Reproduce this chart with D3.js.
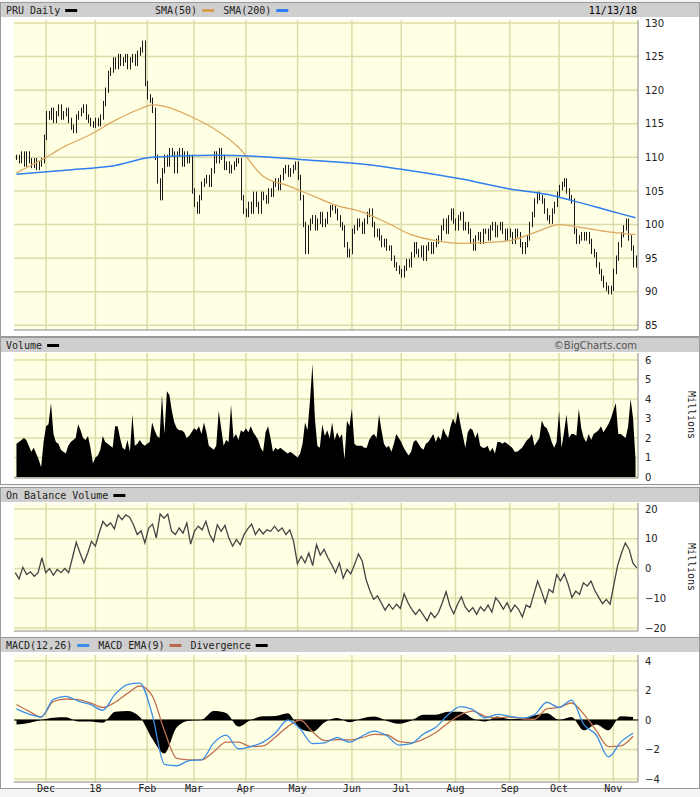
<!DOCTYPE html>
<html>
<head>
<meta charset="utf-8">
<script src="https://cdn.jsdelivr.net/npm/d3@7"></script>
<style>
body { margin: 0; background: #fff; }
text { font-family: "DejaVu Sans Mono", monospace; }
</style>
</head>
<body>
<div class="chart"></div>
<script>
var WIDTH = 700, HEIGHT = 797;

// month gridlines (trading day index) and their labels
var monthIdx = [12, 32, 53, 72, 93, 114, 136, 156, 178, 200, 220, 242];
var monthLbl = ["Dec", "18", "Feb", "Mar", "Apr", "May", "Jun", "Jul", "Aug", "Sep", "Oct", "Nov"];

// daily closes
var closes = [
  110,109.5,110.5,109,110.5,109.5,108.8,109.5,108.5,109,
  109.5,113,116.5,116,117,115.5,116.5,117.5,116,116.5,
  117,115.5,114.5,114,116,116.5,117,117.5,116,115.5,
  115,114.8,115.5,115,116,118,120,122.5,123,124.5,
  123.5,125,124,124.5,125,123.5,124.5,125,124,125.5,
  126,127,121,119,118.5,117,110,106.5,104,108,
  110,109,111,110.5,108,110.5,111,109,110.5,109.5,
  110,105,103,102,104,106,106.5,107,106,108,
  110.5,109.5,111,110,108.5,109,108,108.5,109,109.5,
  109.5,104,102,101.5,103,102,104.5,103,102,104.5,
  104,103.5,105,104.5,106,106.5,105.5,107,108,108.5,
  107.5,108,108.5,109,107,104,100,96,99.5,100.5,
  101,99.5,100.5,101.5,100,100.5,101.5,102.5,102.5,102,
  101,100,99.5,97,95.5,96,99,99.5,100.5,100,
  99,100.5,101.5,102,100,98.5,99,98,97,97.5,
  96.5,96.5,95,94,93.5,93,92.5,93.5,94.5,94,
  95.5,97,96,95.5,96.5,95,96.5,97,96,97,
  97.5,98,99.5,100.5,99,101,102,100.5,99.5,101,
  101.5,99.5,100,99,97.5,96.5,98,98.5,97.5,99,
  99,98,99.5,100,98.5,99.5,100,99,98,99,
  98.5,97.5,99,98.5,97,96,97,98,100,101.5,
  103.5,104.5,104,103.5,102,101,100.5,102,103,104.5,
  105.5,106,106.5,105,104,103.5,99,97.5,98,98.5,
  98,98.5,97.5,96,95.5,94,93,92,91,90.5,
  90,90.5,93,95,97,98.5,99.5,100.5,98,96.5,94,95
];

// moving averages
var smaDays = [0,10,20,30,40,50,55,60,70,80,90,100,110,120,130,140,150,160,170,180,190,200,210,220,230,240,251];
var sma50 = [107.7,109.6,111.7,113.4,115.5,117.2,117.8,117.6,116.2,114.3,111.5,107.2,105.8,104.3,102.8,101.9,100.3,98.5,97.6,97.2,97.3,97.6,98.8,100,99.5,98.9,98.5];
var sma200Days = [0,20,40,55,80,100,115,140,160,180,200,215,225,240,251];
var sma200 = [107.5,108.1,108.8,110,110.3,110.1,109.7,109,108,106.8,105.3,104.5,103.6,102.1,101];

// daily volume, millions
var volume = [
  1.7,1.8,1.9,2.0,1.9,1.6,1.3,1.5,1.2,0.9,0.5,1.8,2.6,2.7,3.8,2.2,1.8,1.7,1.4,1.3,1.2,
  1.6,1.8,1.9,2.0,2.7,2.4,2.0,1.9,2.1,1.5,0.7,1.0,1.1,1.4,2.1,1.8,1.7,1.6,1.5,
  2.6,2.6,2.0,1.5,1.4,1.9,1.3,3.2,1.6,1.7,1.9,1.7,1.6,1.7,1.8,2.8,2.4,2.1,
  2.0,4.2,2.2,4.4,4.2,3.4,2.8,2.5,2.4,2.4,2.3,2.0,2.1,2.3,2.5,2.4,
  2.6,2.2,2.8,2.3,1.6,1.5,1.4,1.6,3.4,2.5,1.6,1.9,1.8,3.7,
  2.0,2.2,1.9,2.4,2.3,2.5,2.3,2.6,2.3,2.1,1.9,1.5,1.3,2.3,2.6,2.0,
  1.3,1.5,1.4,1.5,1.4,1.3,1.2,1.3,1.2,1.1,1.0,1.2,1.7,2.8,2.4,3.9,5.8,3.0,1.6,1.5,
  2.7,2.1,2.4,2.0,2.8,1.9,2.3,
  2.0,2.2,0.9,2.9,2.6,3.5,1.7,1.6,1.6,1.6,1.5,1.5,1.9,2.1,2.2,2.0,3.2,2.4,
  1.7,1.5,1.6,1.3,1.7,2.2,2.0,1.8,1.5,1.3,1.1,1.3,1.8,1.9,1.7,1.5,1.4,
  1.7,1.8,2.0,2.2,1.8,2.1,1.9,2.5,2.2,2.0,2.6,3.0,2.7,3.4,2.7,2.1,
  1.5,2.3,2.5,2.4,2.0,2.3,1.6,1.5,1.5,1.6,1.3,1.5,1.2,
  1.8,1.8,1.7,1.8,1.7,1.6,1.5,1.3,1.3,1.4,1.5,1.7,1.9,2.0,2.2,
  1.6,1.8,2.0,2.9,2.6,2.5,2.2,1.8,1.5,1.8,3.4,1.5,2.3,3.2,2.0,2.2,2.2,2.1,
  3.5,2.5,2.0,1.8,2.2,1.9,2.2,2.3,2.4,2.6,2.3,2.5,2.7,3.0,3.4,3.8,
  2.2,2.2,2.1,2.0,2.6,4.0,3.0,0.9
];

// on balance volume, millions (turning points, spread evenly)
var obv = [
  -1.4,-3.5,0.4,-2,-1.1,-2.6,-1.4,3.6,-1.4,0,-2.3,-0.3,-1.4,0,-1.4,3.6,8.8,5.2,1.9,5.2,
  9.1,7.5,11.9,15.8,14.2,15.3,13.3,18,16.4,18,17.2,14.7,11.4,12.7,8.6,13.6,14.9,10.3,18.3,16.9,
  18.3,12.5,11.4,13.6,11.9,15.3,8.2,12.5,14.2,13,15.8,11.4,9.1,14.7,12.5,14.5,10.3,7.5,9.7,8,
  11.4,13.4,14.9,11.4,13.3,11.6,13,12.5,14.2,12.5,13.6,11.4,13,9.1,1.6,4.1,1.9,5.2,1,8,
  4.5,6.4,3.6,1.3,-1.4,1.9,-3.3,-0.3,-1.8,1.3,4.9,2.5,-3.7,-7.4,-10.4,-9.2,-11.6,-14,-12,-13.7,
  -12,-13.4,-8.5,-11.5,-13.7,-15.4,-13.7,-15.6,-17.6,-14.8,-16.5,-14.8,-11.5,-7.8,-12.6,-15.2,-12,-9.5,-12.9,-14.5,
  -13.1,-15.4,-12.9,-14.3,-12.3,-14.6,-9.8,-11.5,-13.7,-11.5,-14.5,-12.3,-13.7,-16.3,-12.3,-13.1,-8.7,-4.2,-7.6,-11.5,
  -7,-8.1,-2,-4.2,-1.8,-5.3,-9.8,-7.6,-8.7,-4.8,-5.9,-4.2,-7.4,-9.6,-11.8,-10.4,-12,-5.3,1.1,5.2,
  8.6,6.4,1.8,0.2
];

// MACD(12,26) and its EMA(9), every 5 trading days
var macdDays = d3.range(0, 251, 5);
var macd = [0.75,0.4,0.2,1.4,1.6,1.28,1.05,0.66,1.75,2.4,2.5,0.4,-3.0,-3.1,-2.75,-2.7,-1.55,-1.03,-1.95,-1.8,
  -1.5,-0.88,0,-0.6,-1.6,-1.55,-1.2,-1.5,-1.1,-0.75,-1.05,-1.7,-1.6,-0.95,-0.5,0.35,0.9,0.7,0.15,0.38,
  0.25,0.14,0.35,1.2,0.85,1.35,-0.3,-1.0,-2.5,-1.5,-0.9];
var signal = [1.05,0.6,0.2,1.25,1.42,1.38,1.15,0.85,1.2,1.8,2.3,1.65,-0.73,-2.6,-2.7,-2.7,-2.15,-1.5,-1.5,-1.8,
  -1.75,-1.15,-0.45,0,-0.8,-1.4,-1.33,-1.35,-1.2,-0.98,-1.0,-1.45,-1.55,-1.3,-0.85,-0.2,0.35,0.6,0.25,0.14,
  0.2,0.08,0.05,0.75,0.85,1.15,0.4,-0.7,-1.8,-1.75,-1.1];

var L = 14, R = 638;
var x = d3.scaleLinear().domain([-1, 252]).range([L, R]);

var svg = d3.select(".chart").append("svg")
  .attr("width", WIDTH).attr("height", HEIGHT);

svg.append("rect").attr("width", WIDTH).attr("height", HEIGHT).attr("fill", "#f4f4f4");

// panel: header bar, plot background, grid, right axis
function panel(top, bottom, hdrTop, domain, ticks) {
  svg.append("rect").attr("x", 0.5).attr("y", hdrTop + 0.5)
    .attr("width", WIDTH - 1).attr("height", bottom - hdrTop + 6)
    .attr("fill", "#fff").attr("stroke", "#999");
  svg.append("rect").attr("x", 1).attr("y", hdrTop + 1)
    .attr("width", WIDTH - 2).attr("height", 14).attr("fill", "#cfcfcf");
  var y = d3.scaleLinear().domain(domain).range([bottom, top]);
  var g = svg.append("g");
  g.append("rect").attr("x", L).attr("y", top).attr("width", R - L).attr("height", bottom - top)
    .attr("fill", "#ffffe3");
  g.selectAll(".hg").data(ticks).enter().append("line")
    .attr("x1", L).attr("x2", R).attr("y1", d => y(d)).attr("y2", d => y(d))
    .attr("stroke", "#dcdcaa").attr("stroke-width", 1.5);
  g.selectAll(".vg").data(monthIdx).enter().append("line")
    .attr("x1", d => x(d)).attr("x2", d => x(d)).attr("y1", top).attr("y2", bottom)
    .attr("stroke", "#dcdcaa").attr("stroke-width", 1.5);
  g.append("line").attr("x1", R).attr("x2", R).attr("y1", top).attr("y2", bottom).attr("stroke", "#888");
  g.append("line").attr("x1", L).attr("x2", R).attr("y1", bottom).attr("y2", bottom).attr("stroke", "#888");
  svg.append("g").attr("transform", "translate(" + R + ",0)")
    .call(d3.axisRight(y).tickValues(ticks).tickSize(0).tickPadding(7).tickFormat(d3.format("d")))
    .call(a => a.select(".domain").remove())
    .selectAll("text").style("font-family", "DejaVu Sans, sans-serif").style("font-size", "10px").attr("fill", "#222");
  return y;
}

function legend(items, yTop) {
  var xp = 6;
  items.forEach(function (it) {
    if (it.gap) xp = it.gap;
    var t = svg.append("text").attr("x", xp).attr("y", yTop + 12).attr("font-size", "10px").attr("fill", "#222").text(it.t);
    var w = t.node().getComputedTextLength();
    svg.append("rect").attr("x", xp + w + 5).attr("y", yTop + 7).attr("width", 12).attr("height", 3).attr("fill", it.c);
    xp += w + 26;
  });
}

// price
var yP = panel(20, 330, 2, [84.3, 130.45], [85, 90, 95, 100, 105, 110, 115, 120, 125, 130]);
legend([{ t: "PRU Daily", c: "#000" }, { t: "SMA(50)", c: "#d8a050", gap: 155 }, { t: "SMA(200)", c: "#2f7ff0" }], 2);
svg.append("text").attr("x", 637).attr("y", 14).attr("text-anchor", "end").attr("font-size", "10px").text("11/13/18");

svg.append("g").selectAll("line").data(closes).enter().append("line")
  .attr("x1", (d, i) => Math.round(x(i)) + 0.5).attr("x2", (d, i) => Math.round(x(i)) + 0.5)
  .attr("y1", (d, i) => yP(Math.max(d, i ? closes[i - 1] : d) + 0.4))
  .attr("y2", (d, i) => yP(Math.min(d, i ? closes[i - 1] : d) - 0.4))
  .attr("stroke", "#1a1a1a").attr("stroke-width", 1);

svg.append("path").datum(sma50)
  .attr("d", d3.line().x((d, i) => x(smaDays[i])).y(d => yP(d)).curve(d3.curveMonotoneX))
  .attr("fill", "none").attr("stroke", "#dca860").attr("stroke-width", 1.3);
svg.append("path").datum(sma200)
  .attr("d", d3.line().x((d, i) => x(sma200Days[i])).y(d => yP(d)).curve(d3.curveMonotoneX))
  .attr("fill", "none").attr("stroke", "#2f7ff0").attr("stroke-width", 1.5);

// volume
var yV = panel(353, 478, 337, [-0.05, 6.36], [0, 1, 2, 3, 4, 5, 6]);
legend([{ t: "Volume", c: "#000" }], 337);
svg.append("text").attr("x", 637).attr("y", 349).attr("text-anchor", "end").attr("font-size", "10px")
  .attr("fill", "#555").style("font-family", "DejaVu Sans, sans-serif").text("©BigCharts.com");
svg.append("path").datum(volume)
  .attr("d", d3.area().x((d, i) => x(i)).y0(yV(0)).y1(d => yV(d)))
  .attr("fill", "#000");

// on balance volume
var yO = panel(503, 631, 487, [-21, 22], [-20, -10, 0, 10, 20]);
legend([{ t: "On Balance Volume", c: "#000" }], 487);
var obvX = d3.scaleLinear().domain([0, obv.length - 1]).range([x(-0.5), x(251.5)]);
svg.append("path").datum(obv)
  .attr("d", d3.line().x((d, i) => obvX(i)).y(d => yO(d)))
  .attr("fill", "none").attr("stroke", "#444").attr("stroke-width", 1.3);

// MACD
var yM = panel(655, 782, 637, [-4.2, 4.4], [-4, -2, 0, 2, 4]);
legend([{ t: "MACD(12,26)", c: "#3a8ee6" }, { t: "MACD EMA(9)", c: "#b86a50" }, { t: "Divergence", c: "#000" }], 637);
svg.append("path").datum(macd)
  .attr("d", d3.area().x((d, i) => x(macdDays[i])).y0(yM(0)).y1((d, i) => yM(d - signal[i])).curve(d3.curveMonotoneX))
  .attr("fill", "#000");
svg.append("line").attr("x1", L).attr("x2", R).attr("y1", yM(0)).attr("y2", yM(0)).attr("stroke", "#000");
svg.append("path").datum(signal)
  .attr("d", d3.line().x((d, i) => x(macdDays[i])).y(d => yM(d)).curve(d3.curveMonotoneX))
  .attr("fill", "none").attr("stroke", "#c07050").attr("stroke-width", 1.3);
svg.append("path").datum(macd)
  .attr("d", d3.line().x((d, i) => x(macdDays[i])).y(d => yM(d)).curve(d3.curveMonotoneX))
  .attr("fill", "none").attr("stroke", "#3a8ee6").attr("stroke-width", 1.3);

// month labels
svg.selectAll(".ml").data(monthLbl).enter().append("text")
  .attr("x", (d, i) => x(monthIdx[i])).attr("y", 792).attr("text-anchor", "middle")
  .attr("font-size", "10px").attr("fill", "#222").text(d => d);

// "Millions" side labels
[415, 567].forEach(function (cy) {
  svg.append("text").attr("transform", "translate(688," + cy + ") rotate(90)")
    .attr("text-anchor", "middle").attr("font-size", "10px").attr("fill", "#222").text("Millions");
});
</script>
</body>
</html>
